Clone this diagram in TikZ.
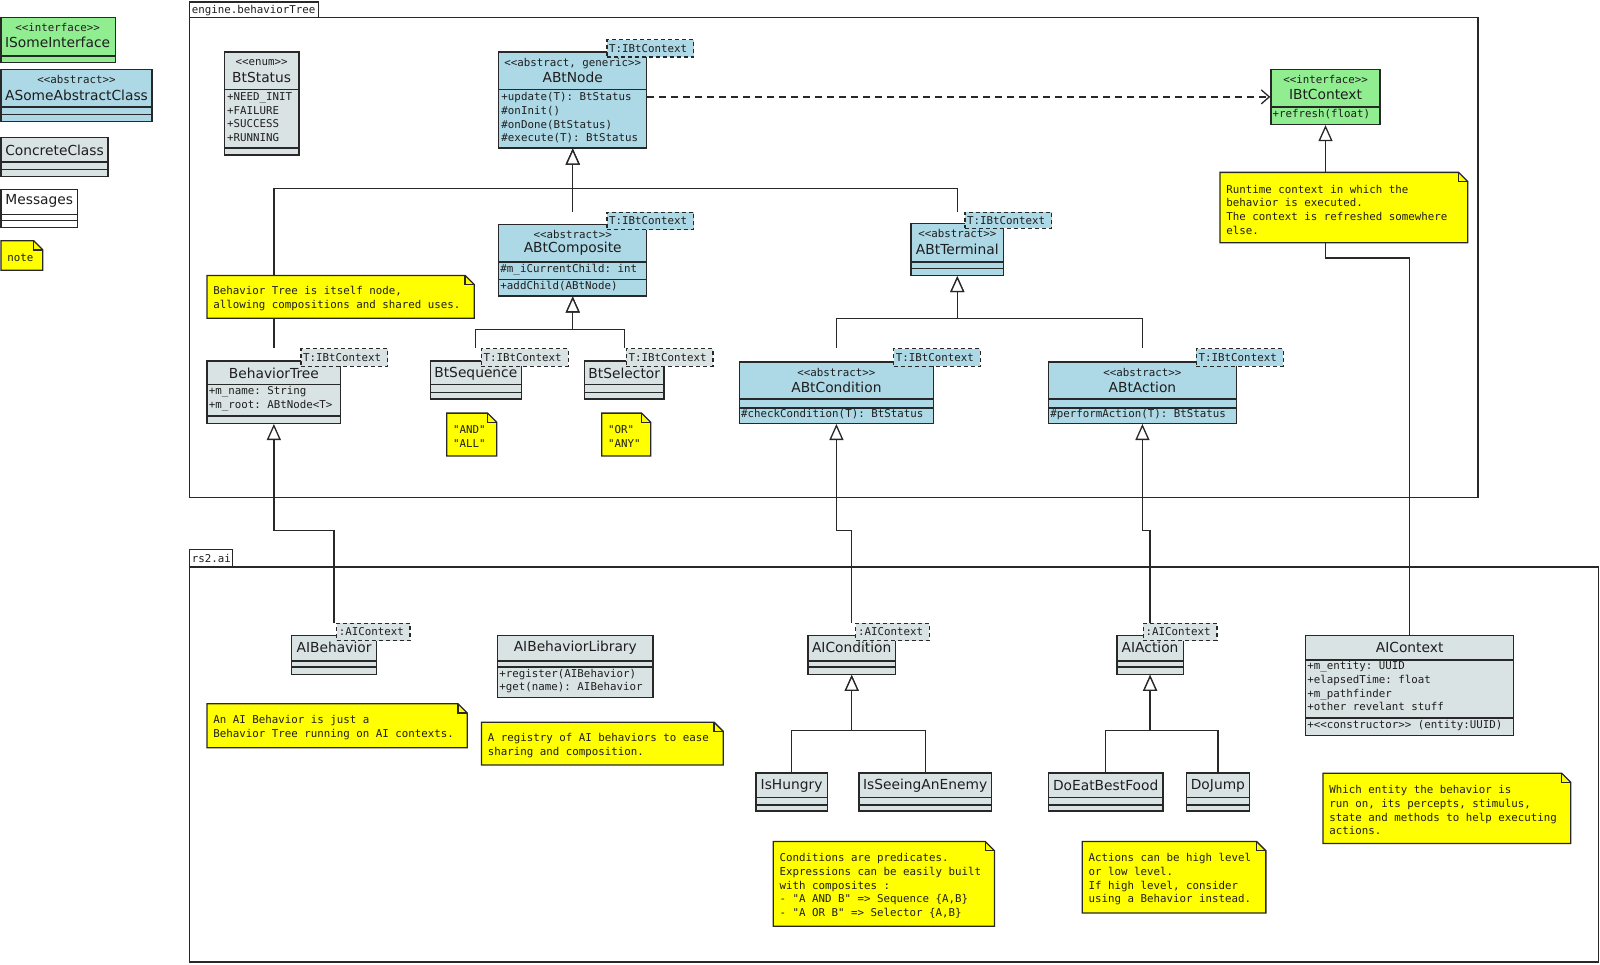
\documentclass[tikz,border=0pt]{standalone}
\usepackage{fontspec}
\setmainfont{DejaVu Sans}
\setmonofont{DejaVu Sans Mono}
\usetikzlibrary{fit,arrows.meta}
\definecolor{cblue}{RGB}{173,216,230}
\definecolor{cgrey}{RGB}{218,227,228}
\definecolor{cgreen}{RGB}{144,238,144}
\definecolor{cyel}{RGB}{255,255,0}
\definecolor{cline}{RGB}{40,40,40}
\definecolor{ctext}{RGB}{30,30,30}
\tikzset{
  box/.style={draw=cline,line width=1.4pt,inner sep=0pt},
  boxline/.style={draw=cline,line width=1.4pt},
  tbox/.style={draw=cline,line width=1.3pt,dash pattern=on 4pt off 3pt,inner sep=0pt},
  mono/.style={font=\fontsize{10.8}{13.7}\selectfont\ttfamily,text=ctext,inner sep=0pt},
  mem/.style={mono,anchor=north west,align=left,inner sep=2.5pt},
  nm/.style={font=\fontsize{13.8}{15}\selectfont,text=ctext,inner sep=0pt},
  notest/.style={draw=cline,line width=1.3pt,fill=cyel},
  pkg/.style={draw=cline,line width=1.3pt},
  inh/.style={draw=cline,line width=1.3pt,-{Triangle[open,length=16pt,width=14pt,fill=white]}},
  dep/.style={draw=cline,line width=1.3pt,dash pattern=on 7pt off 5pt,-{Straight Barb[length=8pt,width=14pt]}},
}
\newcommand\umlbox[7]{%
  \node[box,#2,fit={(#3,#4)(#5,#6)}] (#1) {};
  \foreach \d in {#7} {\draw[boxline] (#3,\d) -- (#5,\d);}%
}
\newcommand\tmpl[7]{%
  \node[tbox,#2,fit={(#3,#4)(#5,#6)}] (#1) {};
  \node[mono,anchor=west] at ({#3+2},{(#4+#6)/2}) {#7};%
}
\newcommand\unote[6]{%
  \filldraw[notest] (#2,#3) -- ({#4-9},#3) -- (#4,{#3+9}) -- (#4,#5) -- (#2,#5) -- cycle;
  \draw[notest,fill=none] ({#4-9},#3) -- ({#4-9},{#3+9}) -- (#4,{#3+9});
  \node[fit={(#2,#3)(#4,#5)},inner sep=0pt] (#1) {};
  \node[mono,anchor=west,align=left] at ({#2+6},{(#3+#5)/2+2}) {#6};%
}
\begin{document}
\begin{tikzpicture}[x=1.02pt,y=-1.02pt]
\useasboundingbox[fill=white] (0,0) rectangle (1568.6,945.1);
% packages
\draw[pkg] (186,2) rectangle (312,17);
\node[mono,anchor=west] at (188,10) {engine.behaviorTree};
\draw[pkg] (186,17) rectangle (1449,488);
\draw[pkg] (186,539) rectangle (228,556);
\node[mono,anchor=west] at (188,548) {rs2.ai};
\draw[pkg] (186,556) rectangle (1567,943);

% legend
\umlbox{lgif}{fill=cgreen}{1}{17}{113}{61}{55}
\node[mono] at (56.5,27) {<<interface>>};
\node[nm] at (56.5,42) {ISomeInterface};
\umlbox{lgabs}{fill=cblue}{1}{68}{149}{119}{105,112}
\node[mono] at (75,78) {<<abstract>>};
\node[nm] at (75,93) {ASomeAbstractClass};
\umlbox{lgcc}{fill=cgrey}{1}{135}{106}{173}{159,166}
\node[nm] at (53.5,147) {ConcreteClass};
\umlbox{lgmsg}{fill=white}{1}{186}{76}{223}{210,216}
\node[nm] at (38.5,197) {Messages};

% engine.behaviorTree
\umlbox{btstatus}{fill=cgrey}{220}{51}{293}{152}{88,145}
\node[mono] at (256.5,61) {<<enum>>};
\node[nm] at (256.5,76) {BtStatus};
\node[mem] at (220,88) {+NEED\_INIT\\+FAILURE\\+SUCCESS\\+RUNNING};

\umlbox{abtnode}{fill=cblue}{489}{51}{634}{145}{88}
\umlbox{abtcomp}{fill=cblue}{489}{220}{634}{290}{257,274}
\umlbox{abtterm}{fill=cblue}{893}{219}{984}{270}{257,263}
\umlbox{btree}{fill=cgrey}{203}{354}{334}{415}{377,408}
\umlbox{bseq}{fill=cgrey}{422}{354}{511}{391}{377,385}
\umlbox{bsel}{fill=cgrey}{573}{354}{651}{391}{377,385}
\umlbox{abtcond}{fill=cblue}{725}{355}{915}{415}{391,400}
\umlbox{abtact}{fill=cblue}{1028}{355}{1212}{415}{391,400}
\umlbox{ibt}{fill=cgreen}{1246}{68}{1353}{122}{105}

% rs2.ai
\umlbox{aib}{fill=cgrey}{286}{623}{369}{661}{648,654}
\umlbox{ailib}{fill=cgrey}{488}{623}{640}{684}{648,654}
\umlbox{aicond}{fill=cgrey}{792}{623}{878}{661}{648,654}
\umlbox{aiact}{fill=cgrey}{1095}{623}{1160}{661}{648,654}
\umlbox{aictx}{fill=cgrey}{1280}{623}{1484}{721}{647,704}
\umlbox{ishungry}{fill=cgrey}{741}{758}{811}{795}{782,789}
\umlbox{isseeing}{fill=cgrey}{842}{758}{972}{795}{782,789}
\umlbox{doeat}{fill=cgrey}{1028}{758}{1140}{795}{782,789}
\umlbox{dojump}{fill=cgrey}{1163}{758}{1225}{795}{782,789}

% templates
\tmpl{abtnodeT}{fill=cblue}{595}{39}{680}{56}{T:IBtContext}
\tmpl{abtcompT}{fill=cblue}{595}{208}{680}{225}{T:IBtContext}
\tmpl{abttermT}{fill=cblue}{946}{208}{1031}{224}{T:IBtContext}
\tmpl{btreeT}{fill=cgrey}{295}{342}{380}{359}{T:IBtContext}
\tmpl{bseqT}{fill=cgrey}{472}{342}{557}{359}{T:IBtContext}
\tmpl{bselT}{fill=cgrey}{614}{342}{699}{359}{T:IBtContext}
\tmpl{abtcondT}{fill=cblue}{876}{342}{961}{359}{T:IBtContext}
\tmpl{abtactT}{fill=cblue}{1173}{342}{1258}{359}{T:IBtContext}
\tmpl{aibT}{fill=cgrey}{330}{611}{402}{628}{:AIContext}
\tmpl{aicondT}{fill=cgrey}{839}{611}{911}{628}{:AIContext}
\tmpl{aiactT}{fill=cgrey}{1121}{611}{1193}{628}{:AIContext}

% class texts
\node[mono] at (561.5,62) {<<abstract, generic>>};
\node[nm] at (561.5,76) {ABtNode};
\node[mem] at (489,88) {+update(T): BtStatus\\\#onInit()\\\#onDone(BtStatus)\\\#execute(T): BtStatus};
\node[mono] at (561.5,230) {<<abstract>>};
\node[nm] at (561.5,244) {ABtComposite};
\node[mem,inner sep=1.5pt] at (489,257) {\#m\_iCurrentChild: int};
\node[mem,inner sep=1.5pt] at (489,274) {+addChild(ABtNode)};
\node[mono] at (938.5,229) {<<abstract>>};
\node[nm] at (938.5,244) {ABtTerminal};
\node[nm] at (268.5,366) {BehaviorTree};
\node[mem,inner sep=1.5pt] at (203,377) {+m\_name: String\\+m\_root: ABtNode<T>};
\node[nm] at (466.5,366) {BtSequence};
\node[nm] at (612,366) {BtSelector};
\node[mono] at (820,365) {<<abstract>>};
\node[nm] at (820,380) {ABtCondition};
\node[mem,inner sep=1.5pt] at (725,400) {\#checkCondition(T): BtStatus};
\node[mono] at (1120,365) {<<abstract>>};
\node[nm] at (1120,380) {ABtAction};
\node[mem,inner sep=1.5pt] at (1028,400) {\#performAction(T): BtStatus};
\node[mono] at (1299.5,78) {<<interface>>};
\node[nm] at (1299.5,93) {IBtContext};
\node[mem,inner sep=1.5pt] at (1246,105) {+refresh(float)};

\node[nm] at (327.5,635) {AIBehavior};
\node[nm] at (564,635) {AIBehaviorLibrary};
\node[mem,inner sep=1.5pt] at (488,654) {+register(AIBehavior)\\+get(name): AIBehavior};
\node[nm] at (835,635) {AICondition};
\node[nm] at (1127.5,635) {AIAction};
\node[nm] at (1382,635) {AIContext};
\node[mem,inner sep=1.5pt] at (1280,647) {+m\_entity: UUID\\+elapsedTime: float\\+m\_pathfinder\\+other revelant stuff};
\node[mem,inner sep=1.5pt] at (1280,704) {+<<constructor>> (entity:UUID)};
\node[nm] at (776,770) {IsHungry};
\node[nm] at (907,770) {IsSeeingAnEnemy};
\node[nm] at (1084,770) {DoEatBestFood};
\node[nm] at (1194,770) {DoJump};

% connectors
\coordinate (y185) at (0,185);
\coordinate (y323) at (0,323);
\coordinate (y312) at (0,312);
\coordinate (y520) at (0,520);
\coordinate (y716) at (0,716);
\coordinate (y253) at (0,253);
\draw[inh] (abtcomp.center |- abtcompT.north) -- (abtnode.south);
\draw[inh] (btree.center |- btreeT.north) |- (abtnode.south |- y185) -- (abtnode.south);
\draw[inh] (abtterm.center |- abttermT.north) |- (abtnode.south |- y185) -- (abtnode.south);
\draw[inh] (bseq.center |- bseqT.north) |- (abtcomp.south |- y323) -- (abtcomp.south);
\draw[inh] (bsel.center |- bselT.north) |- (abtcomp.south |- y323) -- (abtcomp.south);
\draw[inh] (abtcond.center |- abtcondT.north) |- (abtterm.south |- y312) -- (abtterm.south);
\draw[inh] (abtact.center |- abtactT.north) |- (abtterm.south |- y312) -- (abtterm.south);
\draw[inh] (aib.center |- aibT.north) |- (btree.south |- y520) -- (btree.south);
\draw[inh] (aicond.center |- aicondT.north) |- (abtcond.south |- y520) -- (abtcond.south);
\draw[inh] (aiact.center |- aiactT.north) |- (abtact.south |- y520) -- (abtact.south);
\draw[inh] (ishungry.north) |- (aicond.south |- y716) -- (aicond.south);
\draw[inh] (isseeing.north) |- (aicond.south |- y716) -- (aicond.south);
\draw[inh] (doeat.north) |- (aiact.south |- y716) -- (aiact.south);
\draw[inh] (dojump.north) |- (aiact.south |- y716) -- (aiact.south);
\draw[inh] (aictx.north) |- (ibt.south |- y253) -- (ibt.south);
\draw[dep] (abtnode.east |- ibt.west) -- (ibt.west);

% notes
\unote{lgnote}{1}{236}{42}{265}{note}
\unote{ntree}{203}{270}{465}{312}{Behavior Tree is itself node,\\allowing compositions and shared uses.}
\unote{nand}{438}{405}{487}{447}{"AND"\\"ALL"}
\unote{nor}{590}{405}{638}{447}{"OR"\\"ANY"}
\unote{nrun}{1196}{169}{1439}{238}{Runtime context in which the\\behavior is executed.\\The context is refreshed somewhere\\else.}
\unote{naib}{203}{690}{458}{733}{An AI Behavior is just a\\Behavior Tree running on AI contexts.}
\unote{nlib}{472}{708}{709}{750}{A registry of AI behaviors to ease\\sharing and composition.}
\unote{ncond}{758}{825}{975}{908}{Conditions are predicates.\\Expressions can be easily built\\with composites :\\- "A AND B" => Sequence \{A,B\}\\- "A OR B" => Selector \{A,B\}}
\unote{nact}{1061}{825}{1241}{895}{Actions can be high level\\or low level.\\If high level, consider\\using a Behavior instead.}
\unote{nent}{1297}{758}{1540}{827}{Which entity the behavior is\\run on, its percepts, stimulus,\\state and methods to help executing\\actions.}
\end{tikzpicture}
\end{document}
